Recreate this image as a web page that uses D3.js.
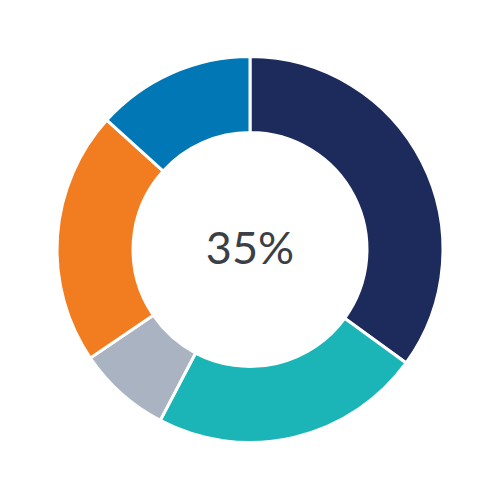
<!DOCTYPE html>
<html lang="en">
<head>
  <meta charset="utf-8">
  <title>Donut</title>
  <script src="https://d3js.org/d3.v7.min.js"></script>
  <style>
    html, body { margin:0; padding:0; background:#fff; }
  </style>
</head>
<body>
  <div id="chart"></div>
  <script>
    // ─── Data ───────────────────────────────────────────────
    const categories = ["A", "B", "C", "D", "E"];
    const values     = [35, 22.7, 7.8, 21.2, 13.3];
    const colors     = ["#1c2b5b", "#1bb5b7", "#a9b3c1", "#f27c20", "#0277b5"];
    const centerLabel = "35%";
    // ─────────────────────────────────────────────────────────

    const width = 500, height = 500;
    const outerR = 193, innerR = 117;

    const svg = d3.select("#chart").append("svg")
      .attr("width", width)
      .attr("height", height);

    const g = svg.append("g")
      .attr("transform", `translate(${width / 2},${height / 2 - 0.5})`);

    const pie = d3.pie().sort(null).value(d => d.value);
    const arc = d3.arc().innerRadius(innerR).outerRadius(outerR);

    const data = categories.map((c, i) => ({ name: c, value: values[i], color: colors[i] }));

    g.selectAll("path")
      .data(pie(data))
      .join("path")
        .attr("d", arc)
        .attr("fill", d => d.data.color)
        .attr("stroke", "#fff")
        .attr("stroke-width", 3);

    g.append("text")
      .attr("text-anchor", "middle")
      .attr("dominant-baseline", "central")
      .attr("y", -3)
      .style("font-family", "Lato, 'Open Sans', sans-serif")
      .style("font-weight", 400)
      .style("font-size", "45px")
      .style("fill", "#3b3f46")
      .text(centerLabel);
  </script>
</body>
</html>
